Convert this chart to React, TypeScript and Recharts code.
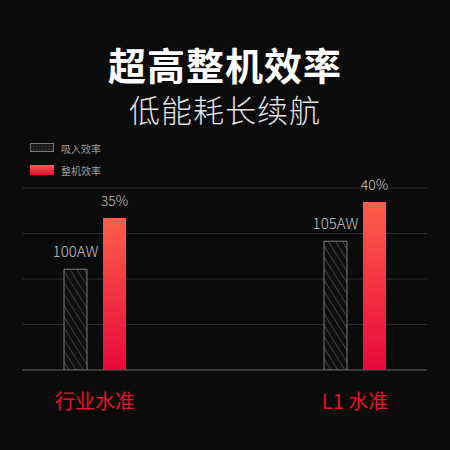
import React from 'react';
import { BarChart, Bar, XAxis, YAxis, CartesianGrid, LabelList } from 'recharts';

const CATEGORIES = ['行业水准', 'L1 水准'];
const SUCTION = [100, 105];
const EFFICIENCY = [35, 40];
const SUCTION_LABELS = ['100AW', '105AW'];
const EFFICIENCY_LABELS = ['35%', '40%'];
const SERIES_NAMES = ['吸入效率', '整机效率'];
const GRID_TICKS = [0, 1, 2, 3, 4];

const SUCTION_DOMAIN: [number, number] = [82, 114.5];
const EFF_DOMAIN: [number, number] = [-12.5, 44.4];

const data = CATEGORIES.map((name, i) => ({
  name,
  suction: SUCTION[i],
  eff: EFFICIENCY[i],
  suctionLabel: SUCTION_LABELS[i],
  effLabel: EFFICIENCY_LABELS[i],
}));

const FONT = '"Noto Sans CJK SC", "Noto Sans", sans-serif';

const EmptyTick = () => <g />;

export default function App() {
  return (
    <div
      style={{
        position: 'absolute',
        left: 0,
        top: 0,
        width: 450,
        height: 450,
        background: '#0b0b0b',
        fontFamily: FONT,
        overflow: 'hidden',
      }}
    >
      <div
        style={{
          position: 'absolute',
          top: 45,
          left: 0,
          width: 450,
          textAlign: 'center',
          color: '#ffffff',
          fontSize: 38,
          lineHeight: '38px',
          fontWeight: 700,
          letterSpacing: 1,
        }}
      >
        超高整机效率
      </div>
      <div
        style={{
          position: 'absolute',
          top: 93,
          left: 0,
          width: 450,
          textAlign: 'center',
          color: '#e2e2e2',
          fontSize: 31,
          lineHeight: '31px',
          fontWeight: 300,
          letterSpacing: 1,
        }}
      >
        低能耗长续航
      </div>
      <div style={{ position: 'absolute', top: 141, left: 30, fontSize: 10, color: '#9a9a9a' }}>
        <div style={{ display: 'flex', alignItems: 'center', height: 14 }}>
          <svg width={24} height={10} style={{ marginRight: 7 }}>
            <defs>
              <pattern id="legHatch" width={3} height={3} patternUnits="userSpaceOnUse">
                <rect width={3} height={3} fill="#1a1a1a" />
                <rect width={1} height={1} fill="#3a3a3a" />
              </pattern>
            </defs>
            <rect x={0.5} y={0.5} width={23} height={8} fill="url(#legHatch)" stroke="#777" strokeWidth={1} />
          </svg>
          <span>{SERIES_NAMES[0]}</span>
        </div>
        <div style={{ display: 'flex', alignItems: 'center', height: 14, marginTop: 8 }}>
          <svg width={24} height={10} style={{ marginRight: 7 }}>
            <defs>
              <linearGradient id="legRed" x1="0" y1="0" x2="0" y2="1">
                <stop offset="0%" stopColor="#ff5d4a" />
                <stop offset="100%" stopColor="#ea0a36" />
              </linearGradient>
            </defs>
            <rect x={0} y={0} width={24} height={10} fill="url(#legRed)" />
          </svg>
          <span>{SERIES_NAMES[1]}</span>
        </div>
      </div>
      <div style={{ position: 'absolute', left: 0, top: 0 }}>
        <BarChart
          width={450}
          height={450}
          data={data}
          margin={{ top: 188, right: 23, left: 22, bottom: 50 }}
          barGap={16}
        >
          <defs>
            <pattern
              id="hatch"
              width={6}
              height={6}
              patternUnits="userSpaceOnUse"
              patternTransform="rotate(-32)"
            >
              <rect width={6} height={6} fill="#0e0e0e" />
              <line x1={0} y1={0} x2={0} y2={6} stroke="#5a5a5a" strokeWidth={1.2} />
            </pattern>
            <linearGradient id="redGrad" x1="0" y1="0" x2="0" y2="1">
              <stop offset="0%" stopColor="#fd5e4a" />
              <stop offset="100%" stopColor="#e8083a" />
            </linearGradient>
          </defs>
          <CartesianGrid yAxisId="grid" vertical={false} stroke="#2a2a2a" />
          <XAxis
            dataKey="name"
            padding={{ left: -57, right: -58 }}
            axisLine={{ stroke: '#555555' }}
            tickLine={false}
            tickSize={0}
            tickMargin={25}
            tick={{ fill: '#e8102a', fontSize: 20 }}
          />
          <YAxis
            yAxisId="grid"
            type="number"
            width={0}
            axisLine={false}
            tickLine={false}
            tick={EmptyTick}
            interval={0}
            domain={[0, 4]}
            allowDataOverflow
            ticks={GRID_TICKS}
          />
          <YAxis yAxisId="suction" type="number" hide domain={SUCTION_DOMAIN} allowDataOverflow />
          <YAxis yAxisId="eff" type="number" hide domain={EFF_DOMAIN} allowDataOverflow />
          <Bar
            yAxisId="suction"
            dataKey="suction"
            name={SERIES_NAMES[0]}
            barSize={23}
            fill="url(#hatch)"
            stroke="#7a7a7a"
            strokeWidth={1}
            isAnimationActive={false}
          >
            <LabelList dataKey="suctionLabel" position="top" offset={12} fill="#c4c4c4" fontSize={15} fontWeight={300} />
          </Bar>
          <Bar
            yAxisId="eff"
            dataKey={(d: any) => [EFF_DOMAIN[0], d.eff]}
            name={SERIES_NAMES[1]}
            barSize={23}
            fill="url(#redGrad)"
            isAnimationActive={false}
          >
            <LabelList dataKey="effLabel" position="top" offset={12} fill="#c4c4c4" fontSize={14} fontWeight={300} />
          </Bar>
        </BarChart>
      </div>
    </div>
  );
}
